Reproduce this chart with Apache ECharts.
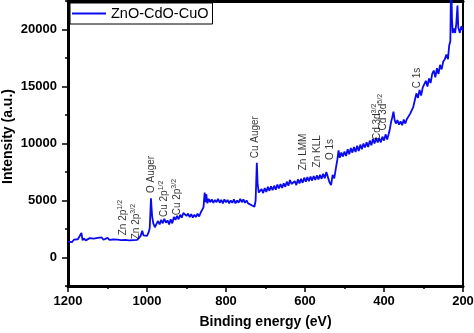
<!DOCTYPE html>
<html>
<head>
<meta charset="utf-8">
<script src="https://cdn.jsdelivr.net/npm/echarts@6/dist/echarts.min.js"></script>
<style>
  html, body { margin: 0; padding: 0; background: #fff; }
  #chart { width: 474px; height: 333px; }
</style>
</head>
<body>
<div id="chart"></div>
<script>
// XPS survey spectrum of the ZnO-CdO-CuO composite
const seriesName = 'ZnO-CdO-CuO';

const bindingEnergy = [
  1200, 1195, 1190, 1185, 1180, 1175, 1170, 1166, 1163, 1160, 1155, 1150, 1145, 1140, 1135, 1130,
  1125, 1120, 1115, 1110, 1105, 1100, 1095, 1090, 1085, 1080, 1075, 1070, 1065, 1060, 1055, 1050,
  1045, 1040, 1035, 1030, 1025, 1020, 1016, 1012, 1009, 1005, 1000, 996, 993, 990, 987, 984,
  980, 976, 972, 968, 964, 960, 956, 952, 948, 944, 940, 936, 932, 928, 924, 920,
  916, 912, 908, 904, 900, 896, 892, 888, 884, 880, 876, 872, 868, 864, 860, 857,
  854, 852, 850, 847, 844, 840, 836, 832, 828, 824, 820, 816, 812, 808, 804, 800,
  796, 792, 788, 784, 780, 776, 772, 768, 764, 760, 756, 752, 748, 744, 740, 736,
  732, 728, 725, 722, 720, 717, 714, 710, 706, 702, 698, 694, 690, 686, 682, 678,
  674, 670, 666, 662, 658, 654, 650, 646, 642, 638, 634, 630, 626, 622, 618, 614,
  610, 606, 602, 598, 594, 590, 586, 582, 578, 574, 570, 566, 562, 558, 554, 550,
  546, 542, 538, 534, 530, 526, 522, 518, 515, 512, 508, 504, 500, 496, 492, 488,
  484, 480, 476, 472, 468, 464, 460, 456, 452, 448, 444, 440, 436, 432, 428, 424,
  420, 416, 412, 408, 404, 400, 396, 392, 388, 385, 382, 379, 376, 373, 370, 366,
  362, 358, 354, 350, 346, 342, 338, 334, 330, 326, 322, 318, 314, 310, 306, 302,
  298, 294, 290, 286, 282, 278, 274, 270, 266, 262, 258, 254, 250, 246, 242, 238,
  235, 232, 230, 228, 226, 223, 220, 217, 214, 212, 208, 204, 200
];

const intensity = [
  1400, 1550, 1350, 1560, 1420, 1600, 1480, 2150, 1500, 1680, 1500, 1620, 1700, 1540, 1660, 1560,
  1720, 1600, 1760, 1560, 1680, 1720, 1540, 1700, 1580, 1740, 1560, 1680, 1520, 1640, 1540, 1660,
  1500, 1620, 1520, 1680, 1540, 1720, 1900, 2350, 1950, 2100, 1900, 2200, 2600, 5200, 3600, 3000,
  2650, 2950, 3200, 2900, 3300, 3000, 3400, 3050, 3250, 2900, 3350, 3000, 3550, 3300, 3650, 3350,
  3750, 3500, 3900, 4000, 3650, 3850, 3550, 3800, 3500, 3750, 3550, 3850, 3600, 3950, 4100, 4400,
  5700, 4850, 5550, 4750, 5150, 4850, 5100, 4800, 5050, 4850, 5150, 4800, 5050, 4750, 5100, 4850,
  5050, 4750, 5000, 4800, 5100, 4750, 5000, 4800, 5150, 4850, 5100, 4800, 5000, 4750, 4900, 4600,
  4700, 4450, 5000, 8300, 6500, 5700, 5550, 6000, 5650, 6100, 5750, 6200, 5850, 6250, 5900, 6300,
  5950, 6400, 6050, 6450, 6100, 6500, 6200, 6650, 6300, 6800, 6450, 6400, 6700, 6350, 6850, 6500,
  6900, 6550, 7000, 6650, 7050, 6700, 7100, 6750, 7150, 6800, 7200, 6850, 7250, 6900, 7350, 6950,
  7500, 7050, 6600, 6350, 7250, 6950, 7800, 8600, 9400, 8750, 9200, 8850, 9300, 8900, 9500, 9050,
  9600, 9200, 9700, 9250, 9800, 9350, 9900, 9500, 10000, 9650, 10100, 9700, 10250, 9850, 10400, 10000,
  10500, 10100, 10450, 10100, 10600, 10250, 10800, 10350, 10850, 11300, 11900, 12300, 12800, 12050, 11750, 12050,
  11650, 11950, 11600, 12100, 11750, 12150, 12250, 12600, 12700, 13200, 13800, 14400, 14000, 14700, 14200, 14900,
  14800, 15500, 15000, 15700, 15300, 16100, 16400, 15800, 16600, 16100, 16900, 16500, 17200, 17400, 17800, 17400,
  18600, 19000, 25000, 21000, 19700, 20100, 19700, 20500, 22100, 20200, 19700, 20300, 19900
];

// Peak assignments: text, superscript, energy (eV) and intensity where the label starts
const peakNames   = ['Zn 2p', 'Zn 2p', 'O Auger', 'Cu 2p', 'Cu 2p', 'Cu Auger', 'Zn LMM', 'Zn KLL', 'O 1s', 'Cd 3d', 'Cd 3d', 'C 1s'];
const peakSups    = ['1/2', '3/2', '', '1/2', '3/2', '', '', '', '', '3/2', '5/2', ''];
const peakEnergy  = [1061, 1027, 990, 957, 924, 727, 605, 570, 537, 418, 403, 317];
const peakLabelAt = [1950, 1600, 5650, 3550, 3700, 8700, 7650, 7900, 8550, 10300, 11150, 14850];

const xMajorTicks = [1200, 1000, 800, 600, 400, 200];
const yMajorTicks = [0, 5000, 10000, 15000, 20000];

const lineData = bindingEnergy.map((e, i) => [e, intensity[i]]);

const peakData = peakNames.map((name, i) => ({
  value: [peakEnergy[i], peakLabelAt[i]],
  label: {
    formatter: peakSups[i] ? '{t|' + name + '}{s|' + peakSups[i] + '}' : '{t|' + name + '}'
  }
}));

const chart = echarts.init(document.getElementById('chart'), null, { renderer: 'canvas' });

const fontFamily = 'Liberation Sans, Arial, sans-serif';
const labelFont = { fontFamily, fontWeight: 'bold', fontSize: 13, color: '#000' };
const plain = (v) => String(v);

chart.setOption({
  animation: false,
  backgroundColor: '#fff',
  grid: {
    left: 68, right: 11, top: 1, bottom: 47,
    outerBoundsMode: 'none',
    containLabel: false,
    show: true, borderColor: '#000', borderWidth: 2, backgroundColor: 'transparent'
  },
  legend: {
    data: [seriesName],
    left: 70, top: 3,
    padding: [3, 4, 3, 2],
    borderColor: '#000', borderWidth: 1,
    itemWidth: 34, itemHeight: 2, itemGap: 0,
    icon: 'rect',
    textStyle: { fontFamily, fontSize: 14.5, color: '#000' }
  },
  xAxis: [
    {
      type: 'value', min: 200, max: 1200, interval: 100, inverse: true,
      position: 'bottom',
      name: 'Binding energy (eV)', nameLocation: 'middle', nameGap: 29,
      nameMoveOverlap: false,
      nameTextStyle: { fontFamily, fontWeight: 'bold', fontSize: 14, color: '#000' },
      axisLine: { show: true, onZero: false, lineStyle: { color: '#000', width: 3 } },
      axisTick: { show: true, inside: false, length: 6, customValues: xMajorTicks, lineStyle: { color: '#000', width: 1.5 } },
      axisLabel: { show: true, margin: 9, customValues: xMajorTicks, formatter: plain, ...labelFont },
      splitLine: { show: false }
    },
    {
      type: 'value', min: 200, max: 1200, interval: 100, inverse: true,
      position: 'bottom',
      axisLine: { show: false, onZero: false },
      axisTick: { show: true, inside: false, length: 3, lineStyle: { color: '#000', width: 1.5 } },
      axisLabel: { show: false },
      splitLine: { show: false }
    },
    {
      // heavy frame line along the top edge
      type: 'value', min: 200, max: 1200, inverse: true,
      position: 'top',
      axisLine: { show: true, onZero: false, lineStyle: { color: '#000', width: 3 } },
      axisTick: { show: false },
      axisLabel: { show: false },
      splitLine: { show: false }
    }
  ],
  yAxis: [
    {
      type: 'value', min: -2500, max: 22500, interval: 2500,
      position: 'left',
      name: 'Intensity (a.u.)', nameLocation: 'middle', nameGap: 53,
      nameMoveOverlap: false,
      nameTextStyle: { fontFamily, fontWeight: 'bold', fontSize: 14, color: '#000', padding: [0, 0, 0, 14] },
      axisLine: { show: true, onZero: false, lineStyle: { color: '#000', width: 3 } },
      axisTick: { show: true, inside: false, length: 6, customValues: yMajorTicks, lineStyle: { color: '#000', width: 1.5 } },
      axisLabel: { show: true, margin: 11, customValues: yMajorTicks, formatter: plain, ...labelFont },
      splitLine: { show: false }
    },
    {
      type: 'value', min: -2500, max: 22500, interval: 2500,
      position: 'left',
      axisLine: { show: false, onZero: false },
      axisTick: { show: true, inside: false, length: 3, lineStyle: { color: '#000', width: 1.5 } },
      axisLabel: { show: false },
      splitLine: { show: false }
    }
  ],
  series: [
    {
      name: seriesName,
      type: 'line',
      xAxisIndex: 0, yAxisIndex: 0,
      data: lineData,
      showSymbol: false,
      symbol: 'none',
      clip: true,
      color: '#0a0af0',
      lineStyle: { color: '#0a0af0', width: 1.8 },
      z: 3
    },
    {
      name: 'peaks',
      type: 'scatter',
      xAxisIndex: 0, yAxisIndex: 0,
      data: peakData,
      symbolSize: 0,
      silent: true,
      label: {
        show: true,
        position: [0, 0],
        rotate: 90,
        align: 'left',
        verticalAlign: 'middle',
        color: '#000',
        rich: {
          t: { fontFamily, fontSize: 10, color: '#000' },
          s: { fontFamily, fontSize: 7, color: '#000', padding: [0, 0, 6, 0] }
        }
      },
      z: 4
    }
  ]
});
</script>
</body>
</html>
